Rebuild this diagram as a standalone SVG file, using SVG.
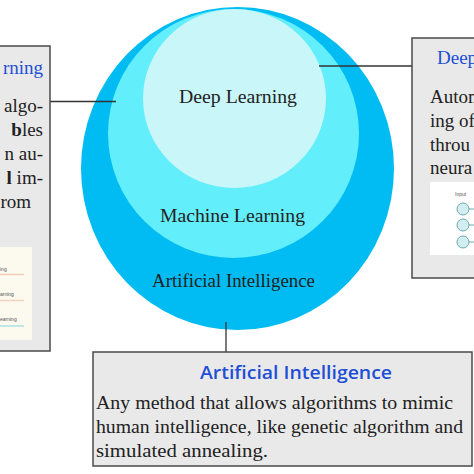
<svg xmlns="http://www.w3.org/2000/svg" width="474" height="474" viewBox="0 0 474 474">
<defs>
<style>
.box{fill:#e9e9e9;stroke:#4a4a4a;stroke-width:1.5}
.lbl{font-family:"Liberation Serif","Times New Roman",serif;font-size:18px;fill:#222;text-anchor:middle}
.body{font-family:"Liberation Serif","Times New Roman",serif;font-size:19px;fill:#222}
.ttl{font-family:"Liberation Serif","Times New Roman",serif;font-size:19px;fill:#1f4fd6}
.sttl{font-family:"Open Sans","Liberation Sans",sans-serif;font-size:18px;font-weight:600;fill:#1f4fd6;text-anchor:middle}
.tiny{font-family:"Liberation Sans",Arial,sans-serif;font-size:5px;fill:#555}
.conn{stroke:#333;stroke-width:1.3;fill:none}
</style>
</defs>
<rect width="474" height="474" fill="#ffffff"/>
<g id="circles">
<ellipse id="ai-circle" cx="237.5" cy="168.5" rx="156.5" ry="161.5" fill="#00bcf2"/>
<ellipse id="ml-circle" cx="233.5" cy="133.5" rx="125.5" ry="124.5" fill="#62eefb"/>
<ellipse id="dl-circle" cx="234.5" cy="98.5" rx="91.5" ry="89.5" fill="#c9f6f9"/>
<text class="lbl" x="238" y="103" textLength="118" lengthAdjust="spacingAndGlyphs">Deep Learning</text>
<text class="lbl" x="232.5" y="222" textLength="145" lengthAdjust="spacingAndGlyphs">Machine Learning</text>
<text class="lbl" x="233.5" y="287" textLength="163" lengthAdjust="spacingAndGlyphs">Artificial Intelligence</text>
</g>
<g id="connectors">
<line class="conn" x1="50" y1="101.5" x2="116" y2="101.5"/>
<line class="conn" x1="319" y1="66" x2="412" y2="66"/>
<line class="conn" x1="226" y1="322" x2="226" y2="352"/>
</g>
<g id="ml-box">
<rect class="box" x="-10" y="46" width="60" height="305"/>
<text class="ttl" x="43" y="74" text-anchor="end">rning</text>
<text class="body" x="43" y="112" text-anchor="end">algo-</text>
<text class="body" x="43" y="136" text-anchor="end"><tspan font-weight="bold">b</tspan>les</text>
<text class="body" x="43" y="160" text-anchor="end">n au-</text>
<text class="body" x="43" y="184" text-anchor="end"><tspan font-weight="bold">l</tspan> im-</text>
<text class="body" x="31" y="208" text-anchor="end">rom</text>
<rect x="0" y="247" width="32" height="93" fill="#fcf9ef"/>
<text class="tiny" x="0" y="271">ing</text>
<line x1="0" y1="274.5" x2="24" y2="274.5" stroke="#f1cdb5" stroke-width="1.5"/>
<text class="tiny" x="0" y="296">arning</text>
<line x1="0" y1="300.5" x2="24" y2="300.5" stroke="#f1d2bd" stroke-width="1.5"/>
<text class="tiny" x="0" y="321">earning</text>
<line x1="0" y1="326" x2="24" y2="326" stroke="#a9e2e2" stroke-width="1.5"/>
</g>
<g id="dl-box">
<rect class="box" x="412" y="38" width="80" height="240"/>
<text class="ttl" x="437" y="64">Deep</text>
<text class="body" x="430" y="103">Autom</text>
<text class="body" x="430" y="127">ing of</text>
<text class="body" x="430" y="151">throu</text>
<text class="body" x="430" y="174">neura</text>
<rect x="430" y="182" width="50" height="73" fill="#ffffff"/>
<text class="tiny" x="455" y="196">Input</text>
<circle cx="463" cy="209" r="6" fill="#d2eef0" stroke="#6fa9ad" stroke-width="1"/>
<circle cx="463" cy="225" r="6" fill="#d2eef0" stroke="#6fa9ad" stroke-width="1"/>
<circle cx="463" cy="242" r="6" fill="#d2eef0" stroke="#6fa9ad" stroke-width="1"/>
<line x1="469" y1="209" x2="474" y2="209" stroke="#6fa9ad" stroke-width="1"/>
<line x1="469" y1="225" x2="474" y2="225" stroke="#6fa9ad" stroke-width="1"/>
<line x1="469" y1="242" x2="474" y2="242" stroke="#6fa9ad" stroke-width="1"/>
</g>
<g id="ai-box">
<rect class="box" x="93" y="352" width="379" height="114"/>
<text class="sttl" x="296" y="379" textLength="192" lengthAdjust="spacingAndGlyphs">Artificial  Intelligence</text>
<text class="body" x="96" y="409" textLength="357" lengthAdjust="spacingAndGlyphs">Any method that allows algorithms to mimic</text>
<text class="body" x="96" y="433" textLength="367" lengthAdjust="spacingAndGlyphs">human intelligence, like genetic algorithm and</text>
<text class="body" x="96" y="457" textLength="172" lengthAdjust="spacingAndGlyphs">simulated annealing.</text>
</g>
</svg>
